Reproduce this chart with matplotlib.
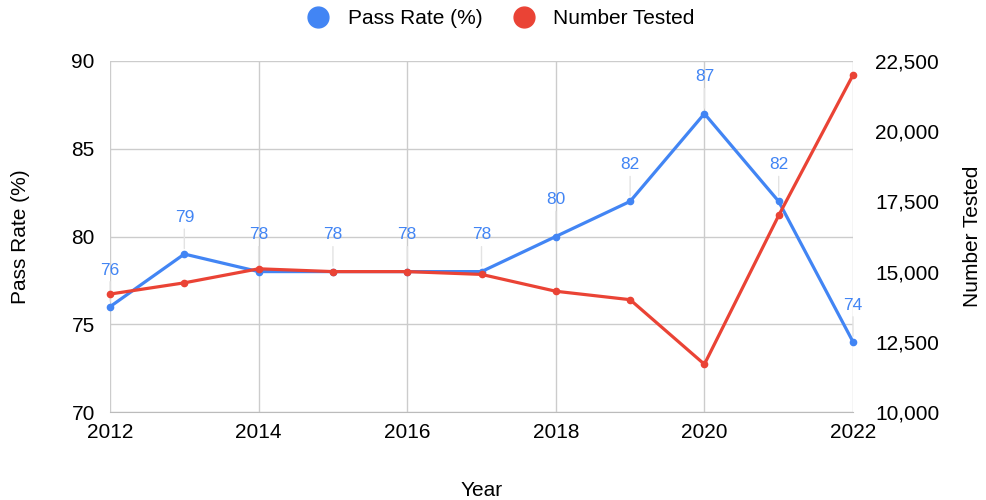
import matplotlib.pyplot as plt
from matplotlib.lines import Line2D
from matplotlib.ticker import FuncFormatter

plt.rcParams['font.family'] = ['Liberation Sans', 'DejaVu Sans']

# data
years = [2012, 2013, 2014, 2015, 2016, 2017, 2018, 2019, 2020, 2021, 2022]
pass_rate = [76, 79, 78, 78, 78, 78, 80, 82, 87, 82, 74]
number_tested = [14200, 14600, 15100, 15000, 15000, 14900, 14300, 14000, 11700, 17000, 22000]

blue = '#4285F4'
red = '#EA4335'
grid_c = '#cccccc'

fig = plt.figure(figsize=(9.86, 5), dpi=100)
ax = fig.add_axes([0.1116, 0.176, 0.7535, 0.702])
ax2 = ax.twinx()

ax.plot(years, pass_rate, color=blue, lw=2.3, marker='o', ms=4.5, zorder=3, clip_on=False)
ax2.plot(years, number_tested, color=red, lw=2.3, marker='o', ms=4.5, zorder=3, clip_on=False)

# data labels with leader lines
for x, y in zip(years, pass_rate):
    ax.annotate(str(y), xy=(x, y), xytext=(0, 21), textcoords='offset points',
                ha='center', va='bottom', color=blue, fontsize=12.5,
                arrowprops=dict(arrowstyle='-', color='#e3e3e3', lw=1,
                                shrinkA=1, shrinkB=4), zorder=2,
                annotation_clip=False)

ax.set_xlim(2012, 2022)
ax.set_ylim(70, 90)
ax2.set_ylim(10000, 22500)
ax.set_xticks([2012, 2014, 2016, 2018, 2020, 2022])
ax.set_yticks([70, 75, 80, 85, 90])
ax2.set_yticks([10000, 12500, 15000, 17500, 20000, 22500])
ax2.yaxis.set_major_formatter(FuncFormatter(lambda v, p: f'{int(v):,}'))

ax.grid(True, color=grid_c, lw=1)
ax.set_axisbelow(True)
for a in (ax, ax2):
    for s in a.spines.values():
        s.set_visible(False)
ax.spines['bottom'].set_visible(True)
ax.spines['bottom'].set_color('#bbbbbb')

ax.tick_params(axis='x', length=0, pad=8, labelsize=15)
ax.tick_params(axis='y', length=0, pad=11, labelsize=15)
ax2.tick_params(axis='y', length=0, pad=16, labelsize=15)

ax.set_xlabel('Year', fontsize=15, labelpad=28)
ax.set_ylabel('Pass Rate (%)', fontsize=15, labelpad=30)
ax2.set_ylabel('Number Tested', fontsize=15, labelpad=17)

handles = [Line2D([], [], ls='none', marker='o', ms=15, color=blue),
           Line2D([], [], ls='none', marker='o', ms=15, color=red)]
fig.legend(handles, ['Pass Rate (%)', 'Number Tested'], loc='center',
           bbox_to_anchor=(0.503, 0.962), ncol=2, frameon=False, fontsize=15,
           handletextpad=0.4, columnspacing=1.0)

fig.savefig('out.png', dpi=100)
